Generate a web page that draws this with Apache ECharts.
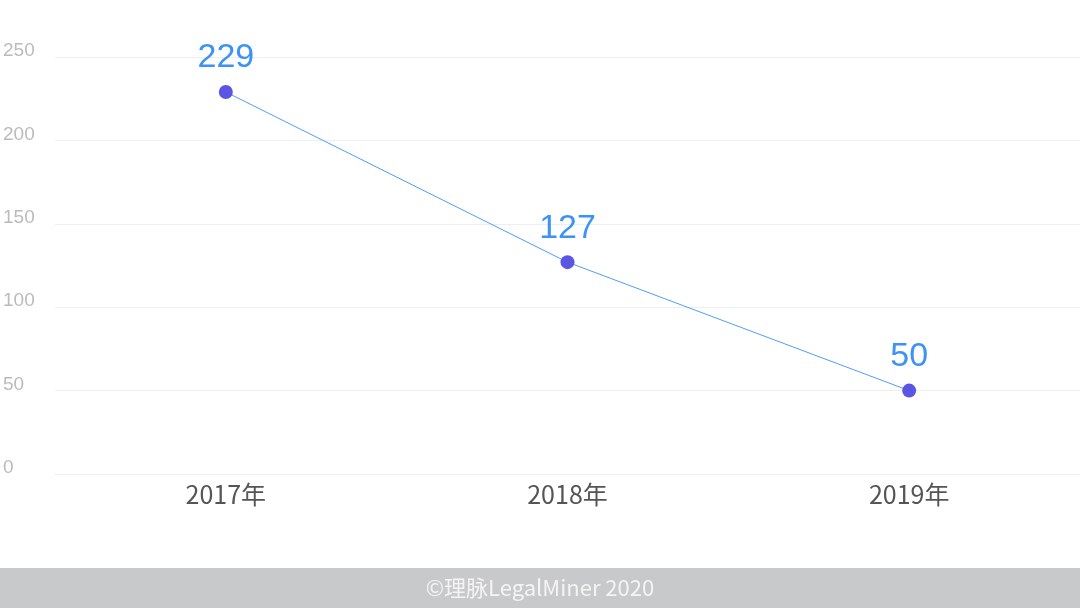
<!DOCTYPE html>
<html>
<head>
<meta charset="utf-8">
<script src="https://cdn.jsdelivr.net/npm/echarts@6/dist/echarts.min.js"></script>
<style>
html,body{margin:0;padding:0;background:#fff;}
#chart{width:1080px;height:608px;}
</style>
</head>
<body>
<div id="chart"></div>
<script>
var categories = ['2017年', '2018年', '2019年'];
var values = [229, 127, 50];
var yTicks = { min: 0, max: 250, interval: 50 };
var footerText = '©理脉LegalMiner 2020';

var chart = echarts.init(document.getElementById('chart'), null, { renderer: 'canvas' });
chart.setOption({
  backgroundColor: '#ffffff',
  animation: false,
  grid: { left: 55, right: 0, top: 57, bottom: 134 },
  xAxis: {
    type: 'category',
    data: categories,
    boundaryGap: true,
    axisLine: { show: true, lineStyle: { color: '#eeeff1', width: 1 } },
    axisTick: { show: false },
    axisLabel: {
      color: '#555555',
      fontSize: 25,
      fontFamily: '"Noto Sans CJK SC", "Noto Sans", sans-serif',
      margin: 8
    },
    splitLine: { show: false }
  },
  yAxis: {
    type: 'value',
    min: yTicks.min,
    max: yTicks.max,
    interval: yTicks.interval,
    axisLine: { show: false },
    axisTick: { show: false },
    axisLabel: {
      color: '#bbbbbb',
      fontSize: 19,
      fontFamily: '"Liberation Sans", Arial, sans-serif',
      align: 'left',
      margin: 52,
      verticalAlign: 'bottom',
      lineHeight: 12
    },
    splitLine: { show: true, lineStyle: { color: '#eeeff1', width: 1 } }
  },
  series: [{
    type: 'line',
    data: values,
    symbol: 'circle',
    symbolSize: 14,
    itemStyle: { color: '#5a55e3' },
    lineStyle: { color: '#4d9ff5', width: 1 },
    label: {
      show: true,
      position: 'top',
      distance: 10,
      color: '#3c93f5',
      fontSize: 34,
      fontFamily: '"Liberation Sans", Arial, sans-serif'
    }
  }],
  graphic: [
    {
      type: 'rect',
      left: 0, top: 568,
      shape: { width: 1080, height: 40 },
      style: { fill: '#c8c9cb' },
      silent: true
    },
    {
      type: 'text',
      left: 'center', top: 577,
      style: {
        text: footerText,
        fill: '#f4f4f5',
        fontSize: 22,
        fontFamily: '"Noto Sans CJK SC", "Noto Sans", sans-serif'
      },
      silent: true
    }
  ]
});
</script>
</body>
</html>
